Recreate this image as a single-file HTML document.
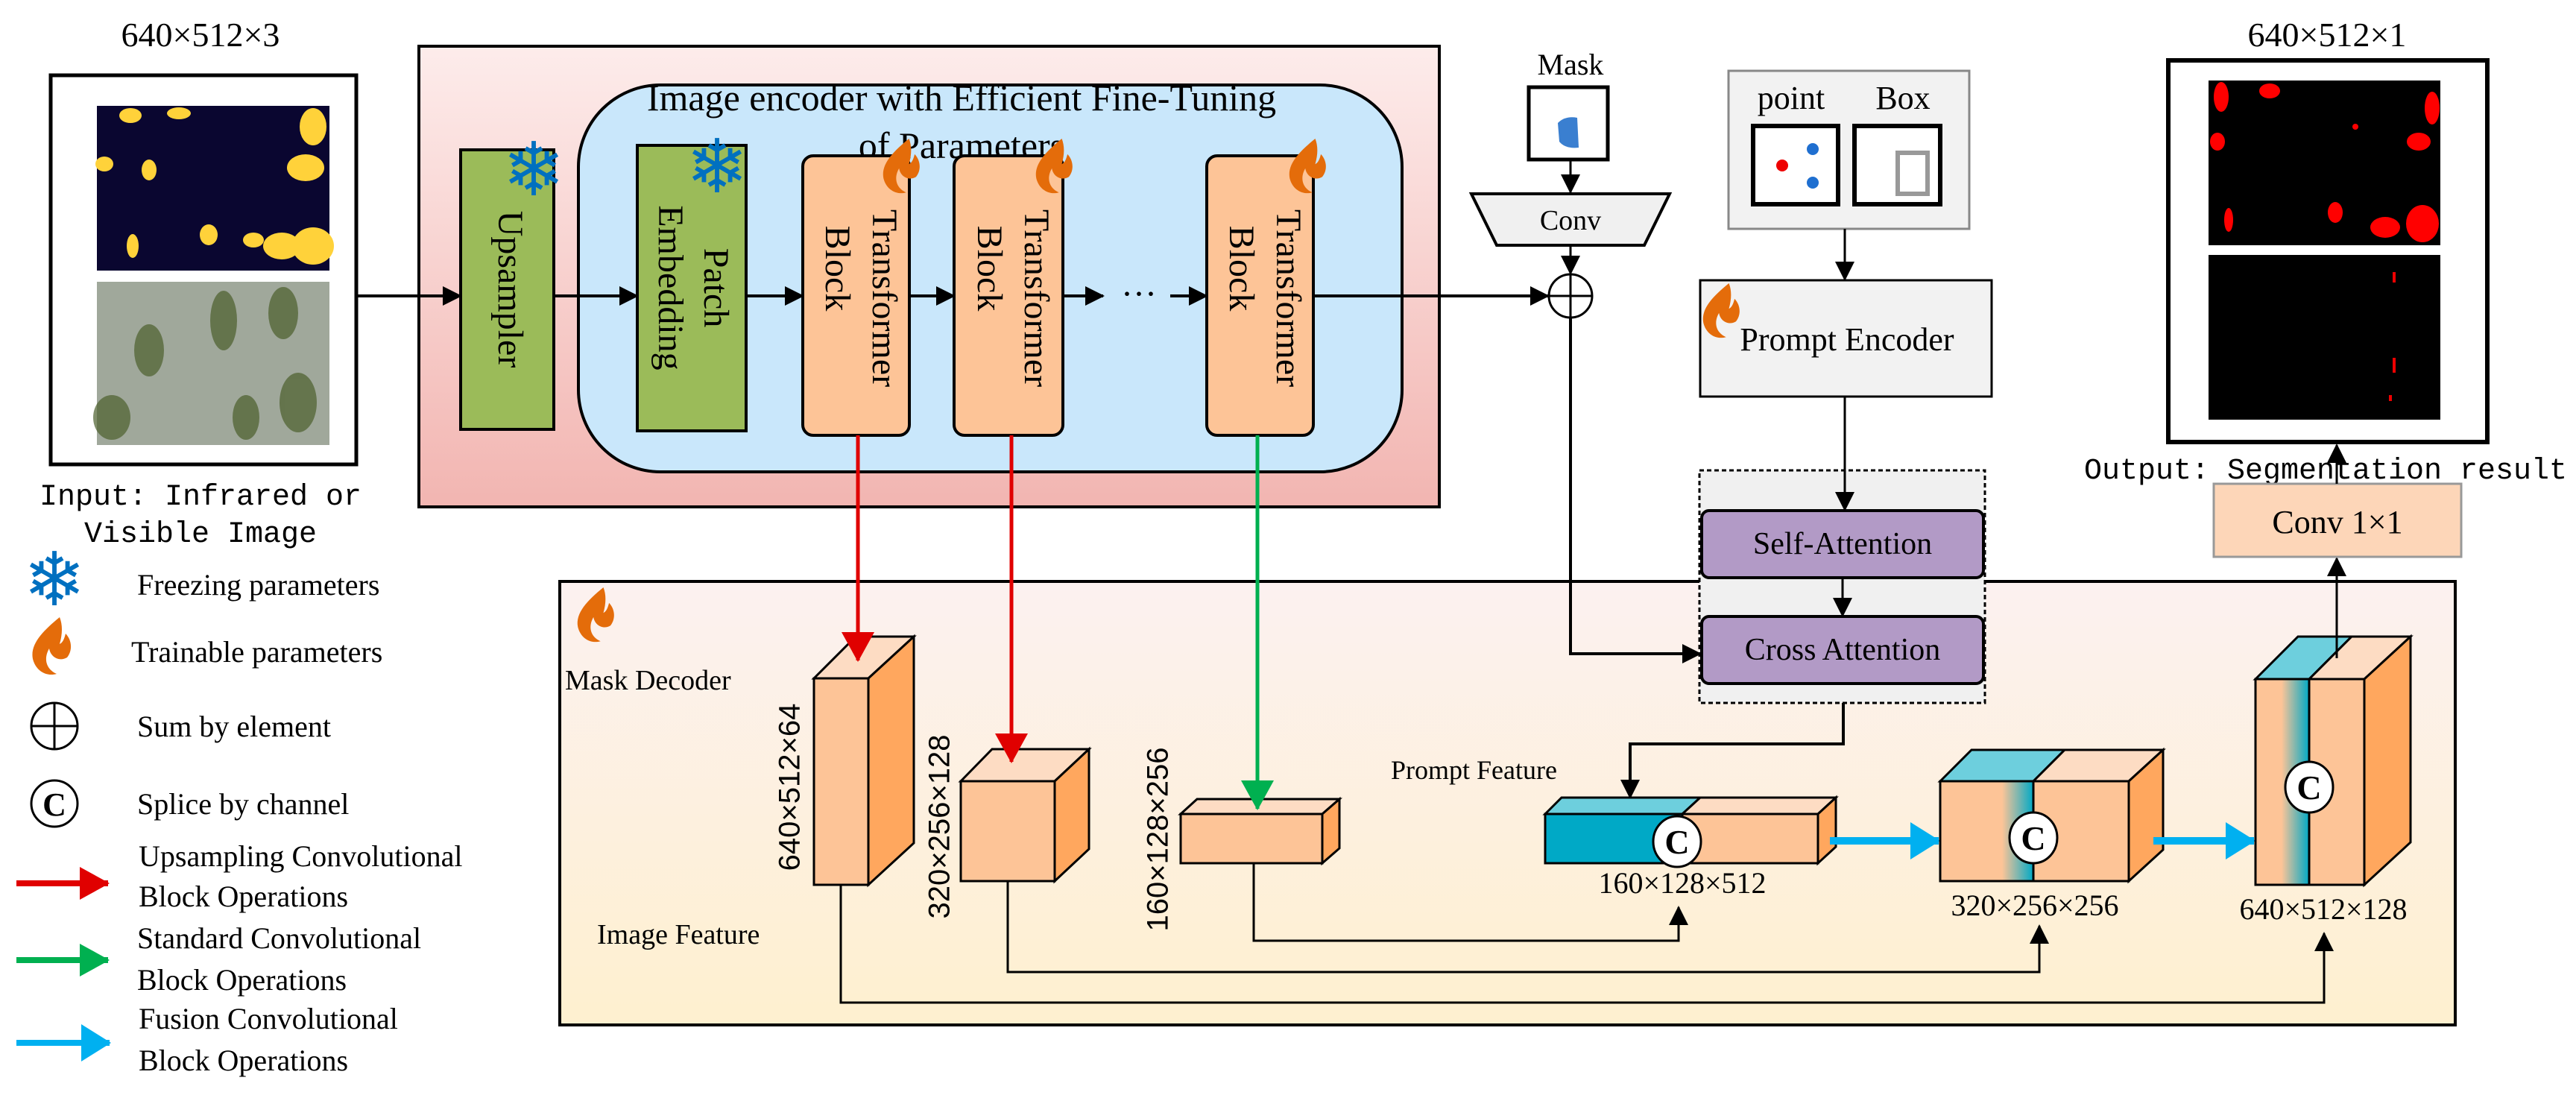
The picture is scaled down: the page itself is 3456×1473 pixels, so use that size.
<!DOCTYPE html>
<html><head><meta charset="utf-8"><style>
html,body{margin:0;padding:0;background:#fff;}
svg{display:block;}
text{font-family:"Liberation Serif",serif;fill:#000;}
.m{font-family:"Liberation Mono",monospace;}
.s{font-family:"Liberation Sans",sans-serif;}
</style></head><body>
<svg width="3456" height="1473" viewBox="0 0 3456 1473" xmlns="http://www.w3.org/2000/svg">
<defs>
<linearGradient id="pink" x1="0" y1="0" x2="0" y2="1"><stop offset="0" stop-color="#fdeceb"/><stop offset="1" stop-color="#f2b5b1"/></linearGradient>
<linearGradient id="dec" x1="0" y1="0" x2="0" y2="1"><stop offset="0" stop-color="#fcf1f0"/><stop offset="1" stop-color="#fef0cf"/></linearGradient>
<linearGradient id="band" x1="0" y1="0" x2="1" y2="0"><stop offset="0" stop-color="#fdc497"/><stop offset="1" stop-color="#00a9c6"/></linearGradient>
<marker id="akb" markerWidth="26" markerHeight="26" refX="24" refY="13" orient="auto" markerUnits="userSpaceOnUse" viewBox="0 0 26 26"><path d="M0,0 L26,13 L0,26 Z" fill="#000"/></marker>
<marker id="ar" markerWidth="40" markerHeight="44" refX="38" refY="22" orient="auto" markerUnits="userSpaceOnUse"><path d="M0,0 L40,22 L0,44 Z" fill="#e00000"/></marker>
<marker id="ag" markerWidth="40" markerHeight="44" refX="38" refY="22" orient="auto" markerUnits="userSpaceOnUse"><path d="M0,0 L40,22 L0,44 Z" fill="#00b050"/></marker>
<marker id="ac" markerWidth="40" markerHeight="50" refX="38" refY="25" orient="auto" markerUnits="userSpaceOnUse"><path d="M0,0 L40,25 L0,50 Z" fill="#00b0f0"/></marker>
<symbol id="flame" viewBox="0 0 60 80"><path d="M40 0 C18 18 0 36 4 56 C8 72 22 80 36 76 C22 70 18 56 26 42 C28 54 40 60 50 54 C58 44 56 30 48 22 C46 30 44 34 40 36 C44 22 44 10 40 0 Z" fill="#e46c0a"/></symbol>
</defs>

<!-- input -->
<text x="269" y="62" font-size="46" text-anchor="middle">640×512×3</text>
<rect x="68" y="101" width="410" height="522" fill="#fff" stroke="#000" stroke-width="5"/>
<rect x="130" y="142" width="312" height="221" fill="#0a0630"/>
<g fill="#ffd23a">
<ellipse cx="420" cy="170" rx="18" ry="25"/><ellipse cx="410" cy="225" rx="25" ry="18"/><ellipse cx="420" cy="330" rx="28" ry="25"/>
<ellipse cx="378" cy="330" rx="25" ry="18"/><ellipse cx="280" cy="315" rx="12" ry="14"/><ellipse cx="175" cy="155" rx="15" ry="10"/>
<ellipse cx="140" cy="220" rx="12" ry="10"/><ellipse cx="200" cy="228" rx="10" ry="14"/><ellipse cx="178" cy="330" rx="8" ry="16"/>
<ellipse cx="340" cy="322" rx="14" ry="10"/><ellipse cx="240" cy="152" rx="16" ry="8"/></g>
<rect x="130" y="378" width="312" height="219" fill="#7f8a70"/>
<rect x="130" y="378" width="312" height="219" fill="#c9cdd0" opacity="0.45"/>
<g fill="#4c5f2c" opacity="0.7"><ellipse cx="200" cy="470" rx="20" ry="35"/><ellipse cx="300" cy="430" rx="18" ry="40"/><ellipse cx="380" cy="420" rx="20" ry="35"/><ellipse cx="150" cy="560" rx="25" ry="30"/><ellipse cx="400" cy="540" rx="25" ry="40"/><ellipse cx="330" cy="560" rx="18" ry="30"/></g>
<text class="m" x="269" y="677" font-size="40" text-anchor="middle">Input: Infrared or</text>
<text class="m" x="269" y="727" font-size="40" text-anchor="middle">Visible Image</text>

<!-- backgrounds -->
<rect x="562" y="62" width="1369" height="618" fill="url(#pink)" stroke="#000" stroke-width="4"/>
<rect x="776" y="114" width="1105" height="519" rx="110" fill="#c9e7fb" stroke="#000" stroke-width="4"/>
<rect x="751" y="780" width="2543" height="595" fill="url(#dec)" stroke="#000" stroke-width="4"/>
<rect x="2280" y="631" width="383" height="312" fill="#f0f0f0" stroke="#000" stroke-width="3" stroke-dasharray="6,4"/>

<!-- encoder -->
<text x="1290" y="148" font-size="50" text-anchor="middle">Image encoder with Efficient Fine-Tuning</text>
<text x="1290" y="212" font-size="50" text-anchor="middle">of Parameters</text>
<line x1="478" y1="397" x2="618" y2="397" stroke="#000" stroke-width="4" marker-end="url(#akb)"/>
<rect x="618" y="201" width="125" height="375" fill="#9bbb59" stroke="#000" stroke-width="4"/>
<text font-size="48" transform="translate(680,388) rotate(90)" text-anchor="middle" dominant-baseline="middle">Upsampler</text>
<line x1="743" y1="397" x2="855" y2="397" stroke="#000" stroke-width="4" marker-end="url(#akb)"/>
<rect x="855" y="195" width="146" height="383" fill="#9bbb59" stroke="#000" stroke-width="4"/>
<text font-size="48" transform="translate(956,386) rotate(90)" text-anchor="middle" dominant-baseline="middle">Patch</text>
<text font-size="48" transform="translate(895,386) rotate(90)" text-anchor="middle" dominant-baseline="middle">Embedding</text>
<line x1="1001" y1="397" x2="1077" y2="397" stroke="#000" stroke-width="4" marker-end="url(#akb)"/>
<rect x="1077" y="209" width="143" height="375" rx="14" fill="#fdc497" stroke="#000" stroke-width="4"/>
<text font-size="48" transform="translate(1182,400) rotate(90)" text-anchor="middle" dominant-baseline="middle">Transformer</text>
<text font-size="48" transform="translate(1119,360) rotate(90)" text-anchor="middle" dominant-baseline="middle">Block</text>
<line x1="1220" y1="397" x2="1280" y2="397" stroke="#000" stroke-width="4" marker-end="url(#akb)"/>
<rect x="1280" y="209" width="146" height="375" rx="14" fill="#fdc497" stroke="#000" stroke-width="4"/>
<text font-size="48" transform="translate(1386,400) rotate(90)" text-anchor="middle" dominant-baseline="middle">Transformer</text>
<text font-size="48" transform="translate(1323,360) rotate(90)" text-anchor="middle" dominant-baseline="middle">Block</text>
<line x1="1426" y1="397" x2="1480" y2="397" stroke="#000" stroke-width="4" marker-end="url(#akb)"/>
<text x="1528" y="410" font-size="48" text-anchor="middle">···</text>
<line x1="1570" y1="397" x2="1619" y2="397" stroke="#000" stroke-width="4" marker-end="url(#akb)"/>
<rect x="1619" y="209" width="143" height="375" rx="14" fill="#fdc497" stroke="#000" stroke-width="4"/>
<text font-size="48" transform="translate(1724,400) rotate(90)" text-anchor="middle" dominant-baseline="middle">Transformer</text>
<text font-size="48" transform="translate(1661,360) rotate(90)" text-anchor="middle" dominant-baseline="middle">Block</text>
<text x="716" y="262" font-size="100" style="fill:#0070c0" text-anchor="middle">❄</text>
<text x="962" y="258" font-size="100" style="fill:#0070c0" text-anchor="middle">❄</text>
<use href="#flame" x="1180" y="186" width="60" height="76"/>
<use href="#flame" x="1385" y="186" width="60" height="76"/>
<use href="#flame" x="1725" y="186" width="60" height="76"/>
<line x1="1762" y1="397" x2="2077" y2="397" stroke="#000" stroke-width="4" marker-end="url(#akb)"/>

<!-- mask & conv -->
<text x="2107" y="100" font-size="40" text-anchor="middle">Mask</text>
<rect x="2051" y="117" width="106" height="97" fill="#fff" stroke="#000" stroke-width="5"/>
<path d="M2090 165 Q2100 155 2116 158 L2118 198 Q2100 200 2092 190 Z" fill="#3a7fd0"/>
<line x1="2107" y1="214" x2="2107" y2="258" stroke="#000" stroke-width="3" marker-end="url(#akb)"/>
<path d="M1974 260 L2240 260 L2206 329 L2008 329 Z" fill="#f0f0f0" stroke="#000" stroke-width="4"/>
<text x="2107" y="308" font-size="38" text-anchor="middle">Conv</text>
<line x1="2107" y1="329" x2="2107" y2="367" stroke="#000" stroke-width="3" marker-end="url(#akb)"/>
<circle cx="2107" cy="397" r="29" fill="#fff" stroke="#000" stroke-width="3"/>
<line x1="2078" y1="397" x2="2136" y2="397" stroke="#000" stroke-width="3"/><line x1="2107" y1="368" x2="2107" y2="426" stroke="#000" stroke-width="3"/>
<polyline points="2107,426 2107,877 2281,877" fill="none" stroke="#000" stroke-width="4" marker-end="url(#akb)"/>

<!-- prompt -->
<rect x="2319" y="95" width="323" height="212" fill="#f2f2f2" stroke="#888" stroke-width="3"/>
<text x="2403" y="146" font-size="44" text-anchor="middle">point</text>
<text x="2553" y="146" font-size="44" text-anchor="middle">Box</text>
<rect x="2352" y="169" width="114" height="105" fill="#fff" stroke="#000" stroke-width="6"/>
<circle cx="2391" cy="222" r="8" fill="#e00"/><circle cx="2432" cy="200" r="8" fill="#1f6fd0"/><circle cx="2432" cy="245" r="8" fill="#1f6fd0"/>
<rect x="2488" y="169" width="115" height="105" fill="#fff" stroke="#000" stroke-width="6"/>
<rect x="2546" y="205" width="40" height="55" fill="none" stroke="#999" stroke-width="6"/>
<line x1="2475" y1="307" x2="2475" y2="375" stroke="#000" stroke-width="3" marker-end="url(#akb)"/>
<rect x="2281" y="376" width="391" height="156" fill="#f2f2f2" stroke="#000" stroke-width="3"/>
<text x="2478" y="470" font-size="44" text-anchor="middle">Prompt Encoder</text>
<use href="#flame" x="2280" y="380" width="60" height="76"/>
<line x1="2475" y1="532" x2="2475" y2="684" stroke="#000" stroke-width="3" marker-end="url(#akb)"/>
<text class="m" x="3120" y="642" font-size="40" text-anchor="middle">Output: Segmentation result</text>

<!-- attention -->
<rect x="2283" y="685" width="378" height="90" rx="10" fill="#b29ac6" stroke="#000" stroke-width="4"/>
<text x="2472" y="743" font-size="42" text-anchor="middle">Self-Attention</text>
<line x1="2472" y1="775" x2="2472" y2="826" stroke="#000" stroke-width="3" marker-end="url(#akb)"/>
<rect x="2283" y="827" width="378" height="90" rx="10" fill="#b29ac6" stroke="#000" stroke-width="4"/>
<text x="2472" y="885" font-size="42" text-anchor="middle">Cross Attention</text>
<polyline points="2473,943 2473,998 2187,998 2187,1070" fill="none" stroke="#000" stroke-width="4" marker-end="url(#akb)"/>
<text x="1866" y="1045" font-size="36">Prompt Feature</text>

<use href="#flame" x="770" y="788" width="60" height="76"/>
<text x="758" y="925" font-size="38">Mask Decoder</text>
<text x="801" y="1266" font-size="38">Image Feature</text>

<!-- skip lines -->
<polyline points="1128,1187 1128,1345 3118,1345 3118,1252" fill="none" stroke="#000" stroke-width="3" marker-end="url(#akb)"/>
<polyline points="1352,1182 1352,1304 2736,1304 2736,1242" fill="none" stroke="#000" stroke-width="3" marker-end="url(#akb)"/>
<polyline points="1682,1158 1682,1262 2252,1262 2252,1217" fill="none" stroke="#000" stroke-width="3" marker-end="url(#akb)"/>

<!-- cubes 1-3 -->
<g stroke="#000" stroke-width="3">
<path d="M1092 910 L1148 854 L1226 854 L1165 910 Z" fill="#fddcc3"/>
<path d="M1165 910 L1226 854 L1226 1131 L1165 1187 Z" fill="#ffa75e"/>
<rect x="1092" y="910" width="73" height="277" fill="#fdc497"/>
<path d="M1289 1048 L1331 1005 L1461 1005 L1415 1048 Z" fill="#fddcc3"/>
<path d="M1415 1048 L1461 1005 L1461 1139 L1415 1182 Z" fill="#ffa75e"/>
<rect x="1289" y="1048" width="126" height="134" fill="#fdc497"/>
<path d="M1584 1092 L1606 1072 L1797 1072 L1774 1092 Z" fill="#fddcc3"/>
<path d="M1774 1092 L1797 1072 L1797 1138 L1774 1158 Z" fill="#ffa75e"/>
<rect x="1584" y="1092" width="190" height="66" fill="#fdc497"/>
</g>
<text class="s" font-size="40" transform="translate(1062,1056) rotate(-90)" text-anchor="middle" dominant-baseline="middle">640×512×64</text>
<text class="s" font-size="40" transform="translate(1263,1109) rotate(-90)" text-anchor="middle" dominant-baseline="middle">320×256×128</text>
<text class="s" font-size="40" transform="translate(1556,1126) rotate(-90)" text-anchor="middle" dominant-baseline="middle">160×128×256</text>

<!-- red/green feed lines -->
<line x1="1151" y1="584" x2="1151" y2="886" stroke="#e00000" stroke-width="5" marker-end="url(#ar)"/>
<line x1="1357" y1="584" x2="1357" y2="1022" stroke="#e00000" stroke-width="5" marker-end="url(#ar)"/>
<line x1="1687" y1="584" x2="1687" y2="1085" stroke="#00b050" stroke-width="5" marker-end="url(#ag)"/>

<!-- cube4 -->
<g stroke="#000" stroke-width="3">
<path d="M2073 1092 L2095 1070 L2281 1070 L2257 1092 Z" fill="#6dcfdd"/>
<path d="M2257 1092 L2281 1070 L2463 1070 L2439 1092 Z" fill="#fddcc3"/>
<path d="M2439 1092 L2463 1070 L2463 1136 L2439 1158 Z" fill="#ffa75e"/>
<rect x="2073" y="1092" width="184" height="66" fill="#00a9c6"/>
<rect x="2257" y="1092" width="182" height="66" fill="#fdc497"/>
</g>
<ellipse cx="2250" cy="1129" rx="32" ry="34" fill="#fff" stroke="#000" stroke-width="3"/>
<text x="2250" y="1145" font-size="46" font-weight="bold" text-anchor="middle">C</text>
<text x="2257" y="1198" font-size="40" text-anchor="middle">160×128×512</text>
<line x1="2455" y1="1128" x2="2601" y2="1128" stroke="#00b0f0" stroke-width="10" marker-end="url(#ac)"/>

<!-- cube5 -->
<g stroke="#000" stroke-width="3">
<path d="M2603 1048 L2645 1006 L2770 1006 L2728 1048 Z" fill="#6dcfdd"/>
<path d="M2728 1048 L2770 1006 L2902 1006 L2856 1048 Z" fill="#fddcc3"/>
<path d="M2856 1048 L2902 1006 L2902 1140 L2856 1182 Z" fill="#ffa75e"/>
<rect x="2603" y="1048" width="83" height="134" fill="#fdc497" stroke="none"/>
<rect x="2686" y="1048" width="42" height="134" fill="url(#band)" stroke="none"/>
<rect x="2728" y="1048" width="128" height="134" fill="#fdc497" stroke="none"/>
<rect x="2603" y="1048" width="253" height="134" fill="none"/>
<line x1="2728" y1="1048" x2="2728" y2="1182"/>
</g>
<ellipse cx="2728" cy="1124" rx="32" ry="34" fill="#fff" stroke="#000" stroke-width="3"/>
<text x="2728" y="1140" font-size="46" font-weight="bold" text-anchor="middle">C</text>
<text x="2730" y="1228" font-size="40" text-anchor="middle">320×256×256</text>
<line x1="2889" y1="1128" x2="3024" y2="1128" stroke="#00b0f0" stroke-width="10" marker-end="url(#ac)"/>

<!-- cube6 -->
<g stroke="#000" stroke-width="3">
<path d="M3026 911 L3083 854 L3155 854 L3098 911 Z" fill="#6dcfdd"/>
<path d="M3098 911 L3155 854 L3234 854 L3172 911 Z" fill="#fddcc3"/>
<path d="M3172 911 L3234 854 L3234 1130 L3172 1187 Z" fill="#ffa75e"/>
<rect x="3026" y="911" width="35" height="276" fill="#fdc497" stroke="none"/>
<rect x="3061" y="911" width="37" height="276" fill="url(#band)" stroke="none"/>
<rect x="3098" y="911" width="74" height="276" fill="#fdc497" stroke="none"/>
<rect x="3026" y="911" width="146" height="276" fill="none"/>
<line x1="3098" y1="911" x2="3098" y2="1187"/>
</g>
<ellipse cx="3098" cy="1056" rx="32" ry="34" fill="#fff" stroke="#000" stroke-width="3"/>
<text x="3098" y="1072" font-size="46" font-weight="bold" text-anchor="middle">C</text>
<text x="3117" y="1233" font-size="40" text-anchor="middle">640×512×128</text>
<line x1="3135" y1="883" x2="3135" y2="749" stroke="#000" stroke-width="3" marker-end="url(#akb)"/>

<!-- output -->
<rect x="2970" y="649" width="332" height="98" fill="#fdd6b8" stroke="#999" stroke-width="3"/>
<text x="3136" y="715" font-size="44" text-anchor="middle">Conv 1×1</text>
<line x1="3135" y1="649" x2="3135" y2="597" stroke="#000" stroke-width="3" marker-end="url(#akb)"/>
<text x="3122" y="62" font-size="46" text-anchor="middle">640×512×1</text>
<rect x="2909" y="81" width="428" height="512" fill="#fff" stroke="#000" stroke-width="6"/>
<rect x="2963" y="108" width="311" height="221" fill="#000"/>
<g fill="#f00"><ellipse cx="2980" cy="130" rx="10" ry="20"/><ellipse cx="3045" cy="122" rx="14" ry="10"/><ellipse cx="3263" cy="145" rx="10" ry="22"/><ellipse cx="3245" cy="190" rx="16" ry="12"/><ellipse cx="2975" cy="190" rx="10" ry="12"/><ellipse cx="3250" cy="300" rx="22" ry="25"/><ellipse cx="3200" cy="305" rx="20" ry="14"/><ellipse cx="3133" cy="285" rx="10" ry="14"/><ellipse cx="2990" cy="295" rx="6" ry="16"/><ellipse cx="3160" cy="170" rx="4" ry="4"/></g>
<rect x="2963" y="342" width="311" height="221" fill="#000"/>
<g fill="#e00"><rect x="3210" y="365" width="4" height="14"/><rect x="3210" y="480" width="4" height="20"/><rect x="3205" y="530" width="4" height="8"/></g>

<!-- legend -->
<text x="73" y="812" font-size="100" style="fill:#0070c0" text-anchor="middle">❄</text>
<text x="184" y="798" font-size="40">Freezing parameters</text>
<use href="#flame" x="38" y="828" width="64" height="80"/>
<text x="176" y="888" font-size="40">Trainable parameters</text>
<circle cx="73" cy="974" r="31" fill="#fff" stroke="#000" stroke-width="3"/>
<line x1="42" y1="974" x2="104" y2="974" stroke="#000" stroke-width="3"/><line x1="73" y1="943" x2="73" y2="1005" stroke="#000" stroke-width="3"/>
<text x="184" y="988" font-size="40">Sum by element</text>
<circle cx="73" cy="1078" r="31" fill="#fff" stroke="#000" stroke-width="3"/>
<text x="73" y="1094" font-size="44" font-weight="bold" text-anchor="middle">C</text>
<text x="184" y="1092" font-size="40">Splice by channel</text>
<line x1="22" y1="1185" x2="145" y2="1185" stroke="#e00000" stroke-width="8" marker-end="url(#ar)"/>
<text x="186" y="1162" font-size="40">Upsampling Convolutional</text>
<text x="186" y="1216" font-size="40">Block Operations</text>
<line x1="22" y1="1288" x2="145" y2="1288" stroke="#00b050" stroke-width="8" marker-end="url(#ag)"/>
<text x="184" y="1272" font-size="40">Standard Convolutional</text>
<text x="184" y="1328" font-size="40">Block Operations</text>
<line x1="22" y1="1399" x2="147" y2="1399" stroke="#00b0f0" stroke-width="8" marker-end="url(#ac)"/>
<text x="186" y="1380" font-size="40">Fusion Convolutional</text>
<text x="186" y="1436" font-size="40">Block Operations</text>
</svg>
</body></html>
